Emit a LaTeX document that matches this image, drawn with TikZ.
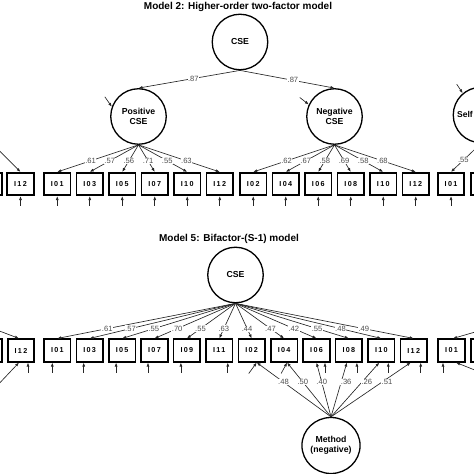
\documentclass[tikz,border=0pt]{standalone}
\usepackage{fontspec}
\setmainfont{Liberation Sans}
\newfontfamily\itemfont[LetterSpace=18]{Liberation Sans}
\usetikzlibrary{arrows.meta,shapes.geometric}

\begin{document}
\begin{tikzpicture}[x=1pt, y=1pt,
                    factor_node/.style={circle, draw=black, line width=1.3pt, minimum size=55.5pt, inner sep=0pt, align=center, font=\bfseries\fontsize{8.7}{9.7}\selectfont},
                    method_node/.style={factor_node, ellipse, minimum width=46pt, minimum height=56pt},
                    item_node/.style={rectangle, draw=black, line width=1.6pt, minimum width=26.5pt, minimum height=22.5pt, inner sep=0pt, font=\itemfont\bfseries\fontsize{7.2}{8}\selectfont},
                    load_label/.style={fill=white, inner sep=0.5pt, pos=0.59, text=black!70, font=\fontsize{7.6}{8.5}\selectfont},
                    load_arrow/.style={draw=black!85, line width=0.65pt, -{Latex[length=4pt, width=3pt]}},
                    res_arrow/.style={draw=black!85, line width=0.65pt, {Latex[length=4pt, width=3pt]}-},
                    title_label/.style={font=\bfseries\fontsize{10}{12}\selectfont},
                    edge from parent/.style={load_arrow},
                    parent anchor=south, child anchor=north
                ]
                    \useasboundingbox (0,0) rectangle (474,474);
                    \clip (0,0) rectangle (474,474);

                    % Model 2
                    \node[title_label] (title2) at (238,467) {Model 2: Higher-order two-factor model};
                    \node[factor_node] (cse2) at (240,432) {CSE};
                    \path[level distance=67.5pt, sibling distance=32.5pt]
                        node[factor_node] (pos2) at (138.5,357.5) {Positive\\CSE}
                            child {node[item_node] (p2i01) {I01} edge from parent node[load_label] {.61}}
                            child {node[item_node] (p2i03) {I03} edge from parent node[load_label] {.57}}
                            child {node[item_node] (p2i05) {I05} edge from parent node[load_label] {.56}}
                            child {node[item_node] (p2i07) {I07} edge from parent node[load_label] {.71}}
                            child {node[item_node] (p2i10) {I10} edge from parent node[load_label] {.55}}
                            child {node[item_node] (p2i12) {I12} edge from parent node[load_label] {.63}};
                    \path[level distance=67.5pt, sibling distance=32.5pt]
                        node[factor_node] (neg2) at (334.5,357.5) {Negative\\CSE}
                            child {node[item_node] (n2i02) {I02} edge from parent node[load_label] {.62}}
                            child {node[item_node] (n2i04) {I04} edge from parent node[load_label] {.67}}
                            child {node[item_node] (n2i06) {I06} edge from parent node[load_label] {.58}}
                            child {node[item_node] (n2i08) {I08} edge from parent node[load_label] {.69}}
                            child {node[item_node] (n2i10) {I10} edge from parent node[load_label] {.58}}
                            child {node[item_node] (n2i12) {I12} edge from parent node[load_label] {.68}};
                    \draw[load_arrow] (cse2.south) -- node[load_label, pos=0.46] {.87} (pos2.north);
                    \draw[load_arrow] (cse2.south) -- node[load_label, pos=0.56] {.87} (neg2.north);
                    \draw[res_arrow] (pos2.160) -- ++(-7,10);
                    \draw[res_arrow] (neg2.155) -- ++(-9,7);

                    % cut-off neighbours of model 2
                    \node[item_node] (lft2box) at (-11,290) {};
                    \node[item_node] (lft2i12) at (20.5,290) {I12};
                    \coordinate (lft2fac) at (-40,363);
                    \draw[load_arrow] (lft2fac) -- (lft2i12.north);
                    \node[factor_node] (self3) at (481,359) {};
                    \node[anchor=west, inner sep=0pt, font=\bfseries\fontsize{8.5}{9.5}\selectfont] (self3txt) at (457,360) {Self};
                    \draw[res_arrow] (self3.130) -- ++(-6,9);
                    \node[item_node] (rgt3i01) at (451,290) {I01};
                    \node[item_node] (rgt3box) at (484,290) {};
                    \draw[load_arrow] (self3.south) -- node[load_label] {.55} (rgt3i01.north);

                    \foreach \n in {p2i01,p2i03,p2i05,p2i07,p2i10,p2i12,n2i02,n2i04,n2i06,n2i08,n2i10,n2i12,lft2i12,rgt3i01}
                        \draw[res_arrow] (\n.south) -- ++(0,-10);

                    % Model 5
                    \node[title_label] (title5) at (229,235) {Model 5: Bifactor-(S-1) model};
                    \path[level distance=75.5pt, sibling distance=32.4pt, load_label/.append style={pos=0.72}]
                        node[factor_node] (cse5) at (235.5,199) {CSE}
                            child {node[item_node] (g5i01) {I01} edge from parent node[load_label] {.61}}
                            child {node[item_node] (g5i03) {I03} edge from parent node[load_label] {.57}}
                            child {node[item_node] (g5i05) {I05} edge from parent node[load_label] {.55}}
                            child {node[item_node] (g5i07) {I07} edge from parent node[load_label] {.70}}
                            child {node[item_node] (g5i09) {I09} edge from parent node[load_label] {.55}}
                            child {node[item_node] (g5i11) {I11} edge from parent node[load_label] {.63}}
                            child {node[item_node] (g5i02) {I02} edge from parent node[load_label] {.44}}
                            child {node[item_node] (g5i04) {I04} edge from parent node[load_label] {.47}}
                            child {node[item_node] (g5i06) {I06} edge from parent node[load_label] {.42}}
                            child {node[item_node] (g5i08) {I08} edge from parent node[load_label] {.55}}
                            child {node[item_node] (g5i10) {I10} edge from parent node[load_label] {.48}}
                            child {node[item_node] (g5i12) {I12} edge from parent node[load_label] {.49}};
                    \node[method_node] (meth5) at (331,28.5) {Method\\(negative)};
                    \draw[load_arrow] (meth5.north) -- node[load_label, pos=0.64] {.48} ([xshift=5pt]g5i02.south);
                    \draw[load_arrow] (meth5.north) -- node[load_label, pos=0.64] {.50} ([xshift=3pt]g5i04.south);
                    \draw[load_arrow] (meth5.north) -- node[load_label, pos=0.64] {.40} (g5i06.south);
                    \draw[load_arrow] (meth5.north) -- node[load_label, pos=0.64, xshift=5pt] {.36} ([xshift=-2pt]g5i08.south);
                    \draw[load_arrow] (meth5.north) -- node[load_label, pos=0.64, xshift=5pt] {.26} ([xshift=-2pt]g5i10.south);
                    \draw[load_arrow] (meth5.north) -- node[load_label, pos=0.64, xshift=5pt] {.51} ([xshift=-3pt]g5i12.south);
                    \draw[res_arrow] (meth5.south) -- ++(0,-12);

                    % residuals of model 5
                    \foreach \n/\s in {g5i01/-5,g5i03/-6,g5i05/-6,g5i07/-6.5,g5i09/-6,g5i11/8.5,g5i06/8.5,g5i08/8,g5i10/7,g5i12/7}
                        \draw[res_arrow] ([xshift=\s pt]\n.south) -- ++(0,-10);
                    \draw[res_arrow] ([xshift=5pt]g5i02.south) -- ++(-8,-11);
                    \draw[res_arrow] ([xshift=3pt]g5i04.south) -- ++(-6,-11);

                    % cut-off neighbours of model 5
                    \node[item_node] (lft5box) at (-11,123.5) {};
                    \node[item_node] (lft5i12) at (21,123.5) {I12};
                    \coordinate (lft5gen) at (-40,158);
                    \coordinate (lft5meth) at (-40,49);
                    \draw[load_arrow] (lft5gen) -- ([xshift=-2pt]lft5i12.north);
                    \draw[load_arrow] (lft5meth) -- ([xshift=-2pt]lft5i12.south);
                    \draw[res_arrow] ([xshift=7pt]lft5i12.south) -- ++(0,-10);
                    \node[item_node] (rgt5i01) at (451.5,123.5) {I01};
                    \node[item_node] (rgt5box) at (484,123.5) {};
                    \coordinate (rgt5gen) at (520,155);
                    \coordinate (rgt5meth) at (520,86);
                    \draw[load_arrow] (rgt5gen) -- ([xshift=1.5pt]rgt5i01.north);
                    \draw[load_arrow] (rgt5meth) -- ([xshift=4.5pt]rgt5i01.south);
                    \draw[res_arrow] ([xshift=-8.5pt]rgt5i01.south) -- ++(0,-10);
                \end{tikzpicture}
\end{document}
